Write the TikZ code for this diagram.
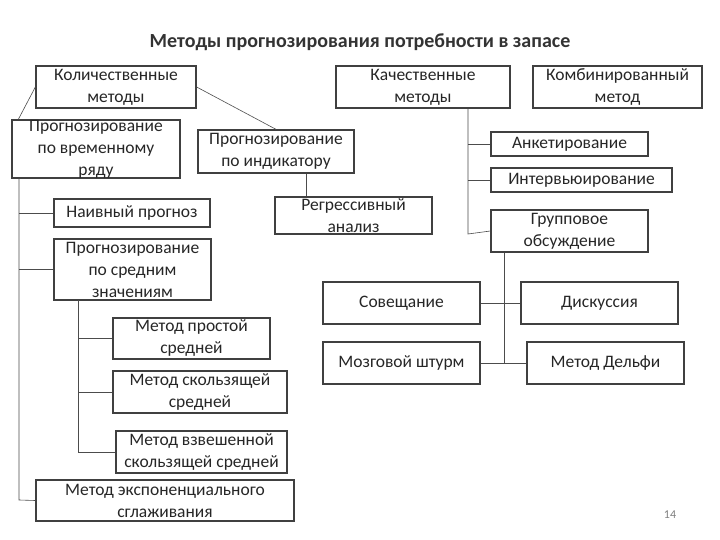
\documentclass[tikz,border=0pt]{standalone}
\usepackage{fontspec}
\setmainfont{Carlito}
\begin{document}
\begin{tikzpicture}[x=1pt,y=-1pt,
 bx/.style={draw=black!75,line width=1.3pt,align=center,inner sep=0pt,font=\fontsize{17.5}{22}\selectfont,text=black!85},
 ln/.style={draw=black!70,line width=0.6pt}]
\useasboundingbox[fill=white] (0,0) rectangle (720,540);
\newcommand\bx[6]{\node[bx,minimum width={#4-#2},minimum height={#5-#3}] (#1) at ({(#2+#4)/2},{(#3+#5)/2}) {#6};}
\node[font=\fontsize{20}{24}\selectfont\bfseries,text=black!80] (title) at (360,42) {Методы прогнозирования потребности в запасе};
\bx{kol}{36}{66}{196}{108}{Количественные\\методы}
\bx{vrem}{12}{120}{180}{178}{Прогнозирование\\по временному\\ряду}
\bx{ind}{198}{130}{354}{173}{Прогнозирование\\по индикатору}
\bx{regr}{275}{197}{432}{234}{Регрессивный\\анализ}
\bx{naiv}{54}{199}{210}{227}{Наивный прогноз}
\bx{sred}{54}{239}{211}{300}{Прогнозирование\\по средним\\значениям}
\bx{prost}{113}{318}{270}{359}{Метод простой\\средней}
\bx{skol}{113}{371}{287}{413}{Метод скользящей\\средней}
\bx{vzv}{116}{431}{287}{473}{Метод взвешенной\\скользящей средней}
\bx{exp}{36}{480}{294}{521}{Метод экспоненциального\\сглаживания}
\bx{kach}{336}{66}{510}{108}{Качественные\\методы}
\bx{komb}{533}{66}{702}{108}{Комбинированный\\метод}
\bx{anket}{491}{132}{648}{156}{Анкетирование}
\bx{interv}{491}{168}{672}{192}{Интервьюирование}
\bx{grup}{491}{210}{648}{252}{Групповое\\обсуждение}
\bx{sov}{323}{282}{480}{324}{Совещание}
\bx{disk}{521}{282}{678}{324}{Дискуссия}
\bx{mozg}{323}{342}{480}{384}{Мозговой штурм}
\bx{delf}{527}{342}{684}{384}{Метод Дельфи}
\node[font=\fontsize{12}{14}\selectfont,text=black!50] (pg) at (670,515) {14};
\draw[ln] (kol.west) -- (18,120);
\draw[ln] (kol.east) -- (ind.north);
\draw[ln] (19,178) -- (19,500) -- (exp.west);
\draw[ln] (19,0 |- naiv.west) -- (naiv.west);
\draw[ln] (19,0 |- sred.west) -- (sred.west);
\draw[ln] (78,300) -- (78,452);
\draw[ln] (78,0 |- prost.west) -- (prost.west);
\draw[ln] (78,0 |- skol.west) -- (skol.west);
\draw[ln] (78,0 |- vzv.west) -- (vzv.west);
\draw[ln] (ind.south -| 306,0) -- (regr.north -| 306,0);
\draw[ln] (kach.south -| 468,0) -- (468,234) -- (grup.west);
\draw[ln] (468,0 |- anket.west) -- (anket.west);
\draw[ln] (468,0 |- interv.west) -- (interv.west);
\draw[ln] (grup.south -| 504,0) -- (504,363);
\draw[ln] (sov.east) -- (disk.west);
\draw[ln] (mozg.east) -- (delf.west);
\end{tikzpicture}
\end{document}
